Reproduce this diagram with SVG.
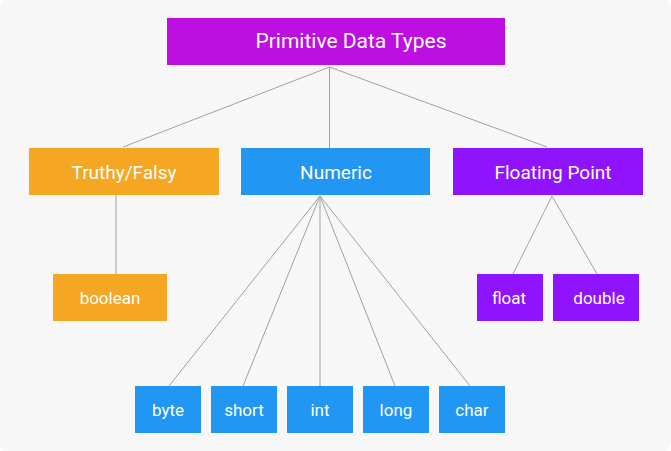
<svg xmlns="http://www.w3.org/2000/svg" width="671" height="451" viewBox="0 0 671 451">
<style>
text{font-family:Roboto,"Liberation Sans",sans-serif;fill:#fff;text-anchor:middle;dominant-baseline:central}
.l{stroke:#a0a0a0;stroke-width:1;fill:none}
.big{font-size:21px}.mid{font-size:19px}.sm{font-size:17px}
</style>
<rect x="0" y="0" width="671" height="451" rx="8" fill="#f7f7f7"/>
<g id="connectors">
<path class="l" d="M329.5 67L123 147M329.5 67V149M329.5 67L547 147M116 195V274M552 196L513 274M552 196L597 274M320 196L169 386M320 196L243 386M320 196V386M320 196L395 386M320 196L470 386"/>
</g>
<g id="root"><rect x="167" y="18" width="338" height="47" fill="#bd10e0"/><text class="big" x="351" y="41">Primitive Data Types</text></g>
<g id="truthy"><rect x="29" y="148" width="190" height="47" fill="#f5a623"/><text class="mid" x="124" y="172">Truthy/Falsy</text></g>
<g id="numeric"><rect x="241" y="148" width="189" height="47" fill="#2196f3"/><text class="mid" x="336" y="172">Numeric</text></g>
<g id="floating"><rect x="453" y="148" width="190" height="47" fill="#9013fe"/><text class="mid" x="553" y="172">Floating Point</text></g>
<g id="boolean"><rect x="53" y="274" width="114" height="47" fill="#f5a623"/><text class="sm" x="110" y="298">boolean</text></g>
<g id="float"><rect x="477" y="274" width="66" height="47" fill="#9013fe"/><text class="sm" x="509" y="298">float</text></g>
<g id="double"><rect x="553" y="274" width="86" height="47" fill="#9013fe"/><text class="sm" x="599" y="298">double</text></g>
<g id="byte"><rect x="135" y="386" width="66" height="47" fill="#2196f3"/><text class="sm" x="168" y="410">byte</text></g>
<g id="short"><rect x="211" y="386" width="66" height="47" fill="#2196f3"/><text class="sm" x="244" y="410">short</text></g>
<g id="int"><rect x="287" y="386" width="66" height="47" fill="#2196f3"/><text class="sm" x="320" y="410">int</text></g>
<g id="long"><rect x="363" y="386" width="66" height="47" fill="#2196f3"/><text class="sm" x="396" y="410">long</text></g>
<g id="char"><rect x="439" y="386" width="66" height="47" fill="#2196f3"/><text class="sm" x="472" y="410">char</text></g>
</svg>
